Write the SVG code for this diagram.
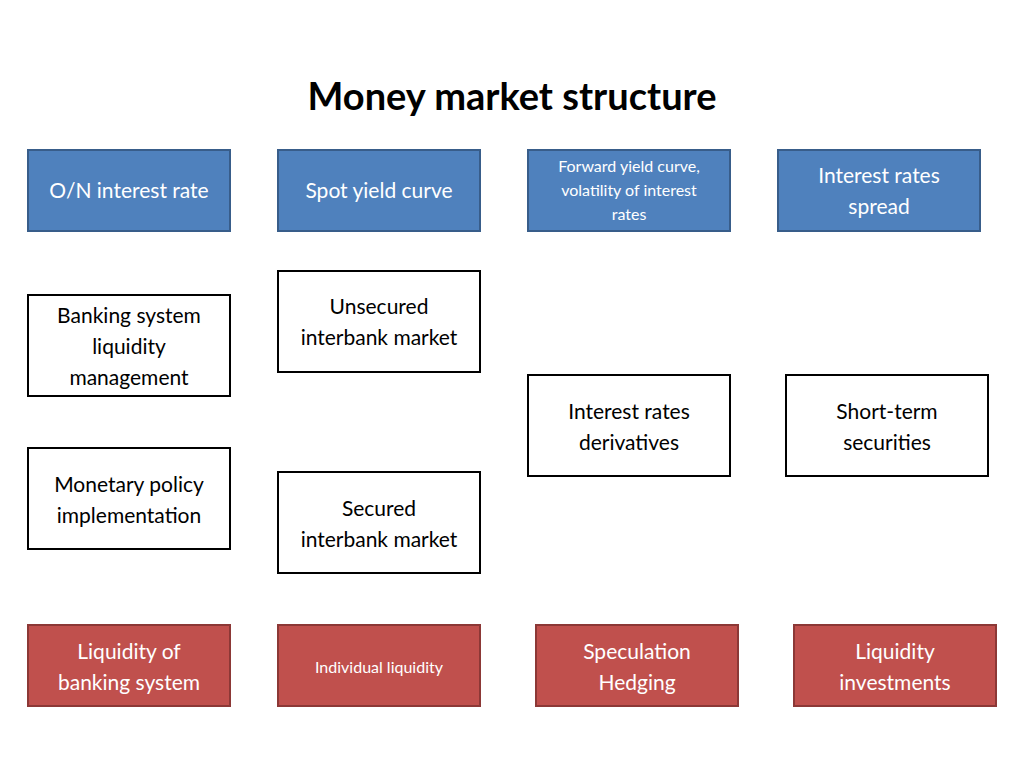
<svg xmlns="http://www.w3.org/2000/svg" width="1024" height="768" viewBox="0 0 1024 768">
<style>
text{font-family:Lato,"Open Sans","Liberation Sans",sans-serif;text-anchor:middle}
.b{fill:#4F81BD;stroke:#385D8A;stroke-width:2}
.r{fill:#C0504D;stroke:#8C3836;stroke-width:2}
.w{fill:#fff;stroke:#000;stroke-width:2}
.t{font-size:21px;fill:#000}
.tw{font-size:21px;fill:#fff}
.s{font-size:16px;fill:#fff}
</style>
<rect width="1024" height="768" fill="#fff"/>
<text x="512" y="110" style="font-size:38px;font-weight:bold">Money market structure</text>
<g id="n1"><rect class="b" x="28" y="150" width="202" height="81"/><text class="tw" x="129" y="198">O/N interest rate</text></g>
<g id="n2"><rect class="b" x="278" y="150" width="202" height="81"/><text class="tw" x="379" y="198">Spot yield curve</text></g>
<g id="n3"><rect class="b" x="528" y="150" width="202" height="81"/><text class="s" x="629" y="172">Forward yield curve,</text><text class="s" x="629" y="196">volatility of interest</text><text class="s" x="629" y="220">rates</text></g>
<g id="n4"><rect class="b" x="778" y="150" width="202" height="81"/><text class="tw" x="879" y="183">Interest rates</text><text class="tw" x="879" y="214">spread</text></g>
<g id="n5"><rect class="w" x="28" y="295" width="202" height="101"/><text class="t" x="129" y="323">Banking system</text><text class="t" x="129" y="354">liquidity</text><text class="t" x="129" y="385">management</text></g>
<g id="n6"><rect class="w" x="278" y="271" width="202" height="101"/><text class="t" x="379" y="314">Unsecured</text><text class="t" x="379" y="345">interbank market</text></g>
<g id="n7"><rect class="w" x="28" y="448" width="202" height="101"/><text class="t" x="129" y="492">Monetary policy</text><text class="t" x="129" y="523">implementation</text></g>
<g id="n8"><rect class="w" x="278" y="472" width="202" height="101"/><text class="t" x="379" y="516">Secured</text><text class="t" x="379" y="547">interbank market</text></g>
<g id="n9"><rect class="w" x="528" y="375" width="202" height="101"/><text class="t" x="629" y="419">Interest rates</text><text class="t" x="629" y="450">derivatives</text></g>
<g id="n10"><rect class="w" x="786" y="375" width="202" height="101"/><text class="t" x="887" y="419">Short-term</text><text class="t" x="887" y="450">securities</text></g>
<g id="n11"><rect class="r" x="28" y="625" width="202" height="81"/><text class="tw" x="129" y="659">Liquidity of</text><text class="tw" x="129" y="690">banking system</text></g>
<g id="n12"><rect class="r" x="278" y="625" width="202" height="81"/><text class="s" x="379" y="673">Individual liquidity</text></g>
<g id="n13"><rect class="r" x="536" y="625" width="202" height="81"/><text class="tw" x="637" y="659">Speculation</text><text class="tw" x="637" y="690">Hedging</text></g>
<g id="n14"><rect class="r" x="794" y="625" width="202" height="81"/><text class="tw" x="895" y="659">Liquidity</text><text class="tw" x="895" y="690">investments</text></g>
<g id="connectors"/>
</svg>
